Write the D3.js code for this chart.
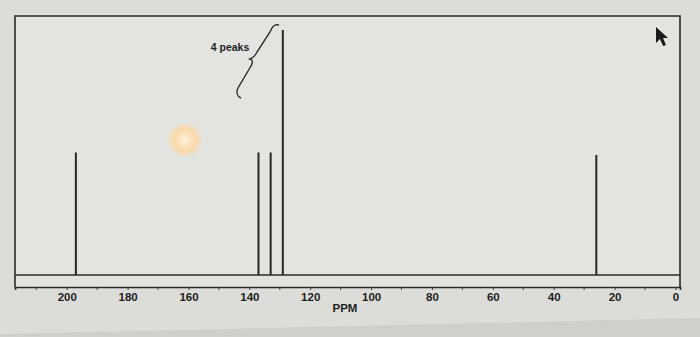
<!DOCTYPE html>
<html>
<head>
<meta charset="utf-8">
<script src="https://d3js.org/d3.v7.min.js"></script>
<style>
    body { margin: 0; background: #cfd0cc; }
    svg { display: block; }
</style>
</head>
<body>
<script>
"use strict";
(function () {

    // Peaks (ppm, relative intensity)
    const peakPPM = [197, 137, 133, 129, 26]
    const peakHeight = [50, 50, 50, 100, 49]

    // Axis ticks
    const majorTicks = [200, 180, 160, 140, 120, 100, 80, 60, 40, 20, 0]
    const minorTicks = [210, 190, 170, 150, 130, 110, 90, 70, 50, 30, 10]

    // Dimensions for svg
    const measurements = {
        width: 700,
        height: 337,
        left: 15,
        right: 680,
        top: 16,
        baseline: 275,
        axisY: 287
    }

    const svgContainer = d3.select('body').append('svg')
        .attr('width', measurements.width)
        .attr('height', measurements.height)

    // Scales
    const scaleX = d3.scaleLinear()
        .domain([217, -1.5])
        .range([measurements.left, measurements.right])

    const scaleY = d3.scaleLinear()
        .domain([0, 100])
        .range([measurements.baseline, 30])

    // Screen background (photo of a monitor)
    svgContainer.append('path')
        .attr('d', 'M0,0H700V318L0,334Z')
        .attr('fill', '#dcddd9')

    svgContainer.append('rect')
        .attr('x', measurements.left).attr('y', measurements.top)
        .attr('width', measurements.right - measurements.left)
        .attr('height', measurements.axisY - measurements.top)
        .attr('fill', '#e3e4e0')

    // Glare spot
    const defs = svgContainer.append('defs')
    const glare = defs.append('radialGradient').attr('id', 'glare')
    glare.append('stop').attr('offset', '0%').attr('stop-color', '#fff2dc')
    glare.append('stop').attr('offset', '55%').attr('stop-color', '#f9d9a8')
    glare.append('stop').attr('offset', '75%').attr('stop-color', '#f1dcbc')
    glare.append('stop').attr('offset', '100%').attr('stop-color', '#e3e4e0').attr('stop-opacity', 0)
    svgContainer.append('circle')
        .attr('cx', 185).attr('cy', 140).attr('r', 19)
        .attr('fill', 'url(#glare)')

    // Frame
    const frame = svgContainer.append('g')
        .attr('stroke', '#2a2a2a')
        .attr('stroke-width', 1.6)
        .attr('fill', 'none')
    frame.append('path')
        .attr('d', 'M' + measurements.left + ',' + measurements.axisY +
            'V' + measurements.top + 'H' + measurements.right + 'V' + measurements.axisY)
    frame.append('line')
        .attr('x1', measurements.left).attr('x2', measurements.right)
        .attr('y1', measurements.baseline).attr('y2', measurements.baseline)

    // Axis
    const xAxis = d3.axisBottom(scaleX)
        .tickValues(majorTicks)
        .tickSize(3)
        .tickPadding(3)
        .tickFormat(d3.format('d'))

    const axisG = svgContainer.append('g')
        .attr('transform', 'translate(0,' + measurements.axisY + ')')
        .call(xAxis)
    axisG.select('.domain')
        .attr('stroke', '#2a2a2a')
        .attr('stroke-width', 1.6)
    axisG.selectAll('.tick line').attr('stroke', '#444')
    axisG.selectAll('.tick text')
        .attr('fill', '#1e1e1e')
        .style('font-family', 'Liberation Sans, Arial, sans-serif')
        .style('font-size', '11.5px')
        .style('font-weight', 'bold')

    svgContainer.append('g')
        .selectAll('line')
        .data(minorTicks)
        .enter()
        .append('line')
        .attr('x1', (d) => scaleX(d))
        .attr('x2', (d) => scaleX(d))
        .attr('y1', measurements.axisY)
        .attr('y2', measurements.axisY + 3)
        .attr('stroke', '#444')

    svgContainer.append('text')
        .attr('x', 345)
        .attr('y', 312)
        .attr('text-anchor', 'middle')
        .attr('fill', '#1e1e1e')
        .style('font-family', 'Liberation Sans, Arial, sans-serif')
        .style('font-size', '11.5px')
        .style('font-weight', 'bold')
        .text('PPM')

    // Peaks
    svgContainer.append('g')
        .selectAll('line')
        .data(peakPPM)
        .enter()
        .append('line')
        .attr('x1', (d) => scaleX(d))
        .attr('x2', (d) => scaleX(d))
        .attr('y1', scaleY(0))
        .attr('y2', (d, i) => scaleY(peakHeight[i]))
        .attr('stroke', '#262626')
        .attr('stroke-width', 2)

    // Hand-drawn annotation
    svgContainer.append('text')
        .attr('x', 230)
        .attr('y', 51)
        .attr('text-anchor', 'middle')
        .attr('fill', '#1e1e1e')
        .style('font-family', 'Liberation Sans, Arial, sans-serif')
        .style('font-size', '10.5px')
        .style('font-weight', 'bold')
        .text('4 peaks')

    svgContainer.append('path')
        .attr('d', 'M279,25 C274,24 272,27 270,32 L257,52 C255,56 253,58 250,59 ' +
            'C253,60 253,63 251,66 L238,88 C236,92 237,96 241,98')
        .attr('fill', 'none')
        .attr('stroke', '#2a2a2a')
        .attr('stroke-width', 1.4)

    // Mouse cursor
    svgContainer.append('path')
        .attr('d', 'M656,27 L656,43 L660,39 L663,46 L666,45 L663,38 L668,38 Z')
        .attr('fill', '#1a1a1a')

})()
</script>
</body>
</html>
